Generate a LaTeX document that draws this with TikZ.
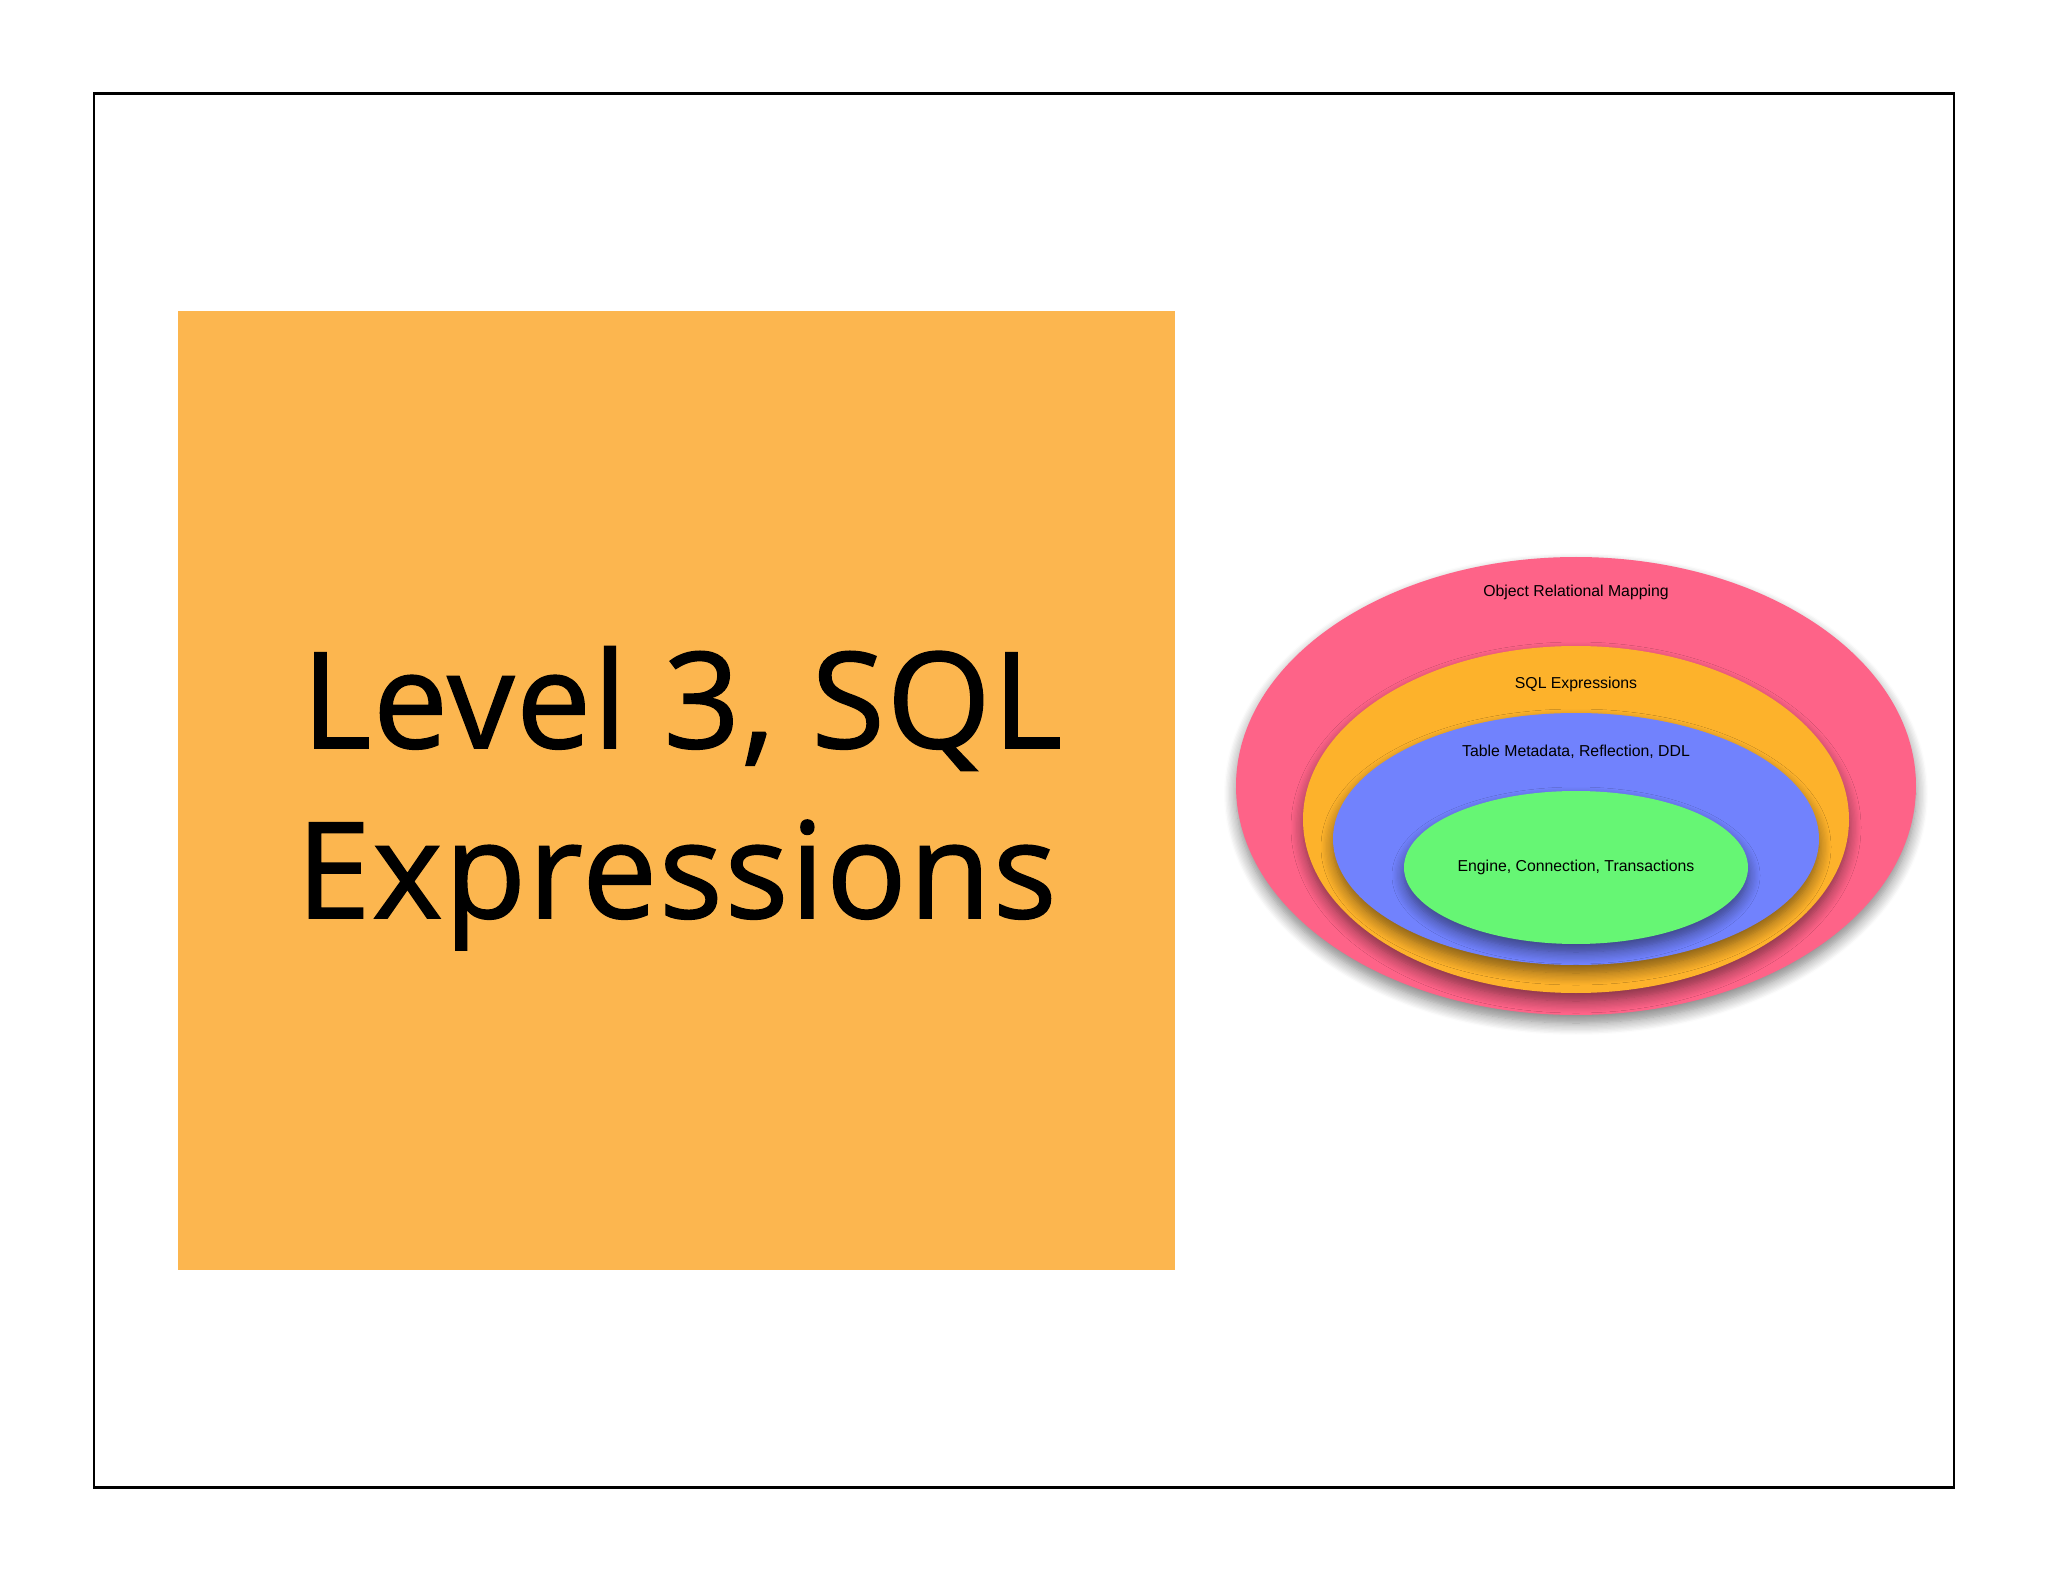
\documentclass[tikz,border=0pt]{standalone}
\usepackage{fontspec}
\setmainfont{Liberation Sans}
\newfontfamily\titlefont[FakeBold=1.2, LetterSpace=1.5]{Open Sans}
\usepackage{xcolor}
\usetikzlibrary{shapes.geometric, positioning, shadows.blur}

\definecolor{slideorange}{HTML}{FCB64F}
\definecolor{ormpink}{HTML}{FE6388}
\definecolor{sqlorange}{HTML}{FDB22B}
\definecolor{metablue}{HTML}{7182FD}
\definecolor{enginegreen}{HTML}{66F674}

\begin{document}
\begin{tikzpicture}[
    layer/.style={ellipse, inner sep=0pt, blur shadow={shadow xshift=0pt, shadow yshift=-0.08cm, shadow blur radius=0.12cm, shadow blur steps=10, shadow opacity=50}},
    lbl/.style={font=\fontsize{4.5pt}{5.4pt}\selectfont, inner sep=0pt},
    bigtext/.style={font=\titlefont\fontsize{38pt}{48pt}\selectfont, inner sep=0pt, anchor=base}
]

\useasboundingbox (0,0) rectangle (20.48,-15.82);
\draw[line width=0.6pt] (0.94,-0.935) rectangle (19.54,-14.875);

% title square
\node[fill=slideorange, minimum width=9.97cm, minimum height=9.59cm, inner sep=0pt] (title) at (6.765,-7.905) {};
\node[bigtext] (line1) at (6.82,-7.48) {Level 3, SQL};
\node[bigtext] (line2) at (6.765,-9.18) {Expressions};

% nested layers
\node[layer, fill=ormpink, minimum width=6.80cm, minimum height=4.58cm] (orm) at (15.76,-7.86) {};
\node[layer, fill=sqlorange, minimum width=5.46cm, minimum height=3.47cm] (sqlexpr) at (15.76,-8.195) {};
\node[layer, fill=metablue, minimum width=4.86cm, minimum height=2.52cm] (meta) at (15.76,-8.39) {};
\node[layer, fill=enginegreen, minimum width=3.44cm, minimum height=1.53cm] (engine) at (15.76,-8.675) {};

\node[lbl] (ormlbl) at ([yshift=-0.36cm]orm.north) {Object Relational Mapping};
\node[lbl] (sqllbl) at ([yshift=-0.39cm]sqlexpr.north) {SQL Expressions};
\node[lbl] (metalbl) at ([yshift=-0.39cm]meta.north) {Table Metadata, Reflection, DDL};
\node[lbl] (enginelbl) at (engine.center) {Engine, Connection, Transactions};

\end{tikzpicture}
\end{document}
